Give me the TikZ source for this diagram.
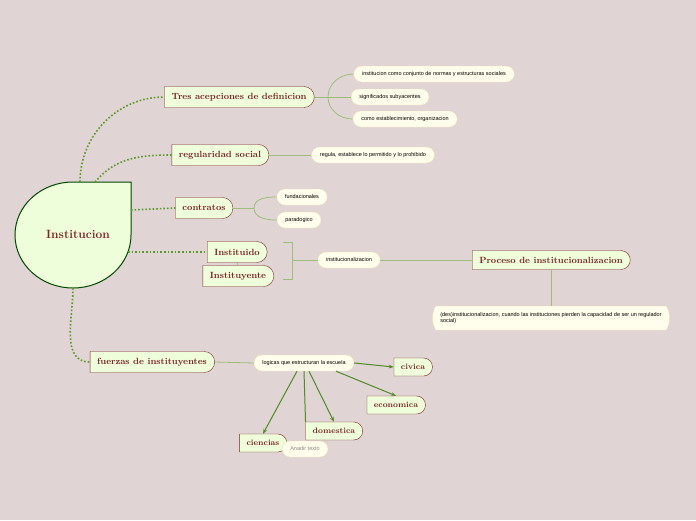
\documentclass[tikz,border=0pt]{standalone}
\usepackage{fontspec}
\setsansfont{Liberation Sans}
\usetikzlibrary{shapes.misc,arrows.meta}
\definecolor{bg}{HTML}{E0D4D4}
\definecolor{maroon}{HTML}{7A2424}
\definecolor{nfill}{HTML}{EEFDDA}
\definecolor{lfill}{HTML}{FFFDEB}
\definecolor{lbord}{HTML}{EDE3B8}
\definecolor{gdot}{HTML}{5A9A2A}
\definecolor{gline}{HTML}{9CBE7A}
\tikzset{
 br/.style={rounded rectangle, rounded rectangle left arc=none, draw=maroon, fill=nfill, text=maroon, font=\bfseries\fontsize{9}{10}\selectfont, minimum height=21pt, inner xsep=7pt, align=left},
 lf/.style={rounded rectangle, draw=lbord, fill=lfill, font=\sffamily\fontsize{5.5}{6.5}\selectfont, minimum height=16pt, inner xsep=8pt},
 dl/.style={gdot, line width=1.6pt, dotted},
 tl/.style={gline, line width=0.8pt},
 ar/.style={gdot!90!black, line width=1pt, -{Stealth[length=5pt]}}
}
\begin{document}
\begin{tikzpicture}[x=1pt,y=-1pt]
\fill[bg] (0,0) rectangle (696,520);
\useasboundingbox (0,0) rectangle (696,520);
% central
\draw[fill=nfill, draw=black!30!green!40!black, line width=1pt] (73,182) -- (131,182) -- (131,235) arc[start angle=0,end angle=270,x radius=58,y radius=53] -- cycle;
\node[text=maroon, font=\bfseries\fontsize{12}{14}\selectfont] (c) at (78,234) {Institucion};
\coordinate (c1) at (80,182);
\coordinate (c2) at (95,182);
\coordinate (c3) at (131,210);
\coordinate (c4) at (128,252);
\coordinate (c5) at (73,288);
% branches
\node[br] (tres) at (239,97) {Tres acepciones de definicion};
\node[br] (reg) at (220,155) {regularidad social};
\node[br] (con) at (204,208) {contratos};
\node[br] (i1) at (237,252) {Instituido};
\node[br] (i2) at (238,276) {Instituyente};
\node[br] (fue) at (152,362) {fuerzas de instituyentes};
\node[br,minimum height=19pt] (proc) at (551,260) {Proceso de institucionalizacion};
\node[br,minimum height=18pt,font=\bfseries\fontsize{8}{9}\selectfont] (civ) at (413,367) {civica};
\node[br,minimum height=18pt,font=\bfseries\fontsize{8}{9}\selectfont] (eco) at (396,405) {economica};
\node[br,minimum height=18pt,font=\bfseries\fontsize{8}{9}\selectfont] (dom) at (334,431) {domestica};
\node[br,minimum height=18pt,font=\bfseries\fontsize{8}{9}\selectfont] (cie) at (263,443) {ciencias};
% dotted links
\draw[dl] (c1) to[out=90,in=180] (tres.west);
\draw[dl] (c2) to[out=50,in=180] (reg.west);
\draw[dl] (c3) -- (con.west);
\draw[dl] (c4) -- (i1.west);
\draw[dl] (c5) to[out=-90,in=180] (fue.west);
% leaves
\node[lf] (l1) at (434,74) {institucion como conjunto de normas y estructuras sociales};
\node[lf] (l2) at (390,97) {significados subyacentes};
\node[lf] (l3) at (405,119) {como establecimiento, organizacion};
\node[lf] (l4) at (373,155) {regula, establece lo permitido y lo prohibido};
\node[lf] (l5) at (302,197) {fundacionales};
\node[lf] (l6) at (299,220) {paradogico};
\node[lf] (l7) at (349,260) {institucionalizacion};
\node[lf, rounded rectangle arc length=60, minimum height=24pt, minimum width=253pt, align=left] (l8) at (551,318) {(des)institucionalizacion, cuando las instituciones pierden la capacidad de ser un regulador\\social)\hspace*{182pt}};
\node[lf] (l9) at (304,363) {logicas que estructuran la escuela};
\node[lf, text=black!45] (add) at (305,449) {Anadir texto};
% thin links
\coordinate (t0) at (328,97);
\draw[tl] (tres.east) -- (t0);
\draw[tl] (t0) -- (l2.west);
\draw[tl] (t0) to[out=90,in=180] (l1.west);
\draw[tl] (t0) to[out=-90,in=180] (l3.west);
\draw[tl] (reg.east) -- (l4.west);
\coordinate (t1) at (254,208);
\draw[tl] (con.east) -- (t1);
\draw[tl] (t1) to[out=90,in=180] (l5.west);
\draw[tl] (t1) to[out=-90,in=180] (l6.west);
\draw[tl] (i1.south) -- (i2.north);
\coordinate (b1) at (283,242);
\coordinate (b2) at (283,279);
\coordinate (bm) at (292,260);
\draw[tl] (b1) -- (292,242) -- (292,279) -- (b2);
\draw[tl] (bm) -- (l7.west);
\draw[tl] (l7.east) -- (proc.west);
\draw[tl] (proc.south) -- (l8.north);
\draw[tl] (fue.east) -- (l9.west);
% arrows
\draw[ar] (l9.east) -- (civ.west);
\draw[ar] (l9.south east) ++(-10,0) coordinate (a1) (a1) -- (eco.north);
\draw[ar] (l9.south) ++(5,0) coordinate (a2) (a2) -- (dom.north);
\draw[gdot!90!black, line width=1pt] (l9.south) -- (dom.north west);
\draw[ar] (l9.south) ++(-7,0) coordinate (a3) (a3) -- (cie.north);
\end{tikzpicture}
\end{document}
